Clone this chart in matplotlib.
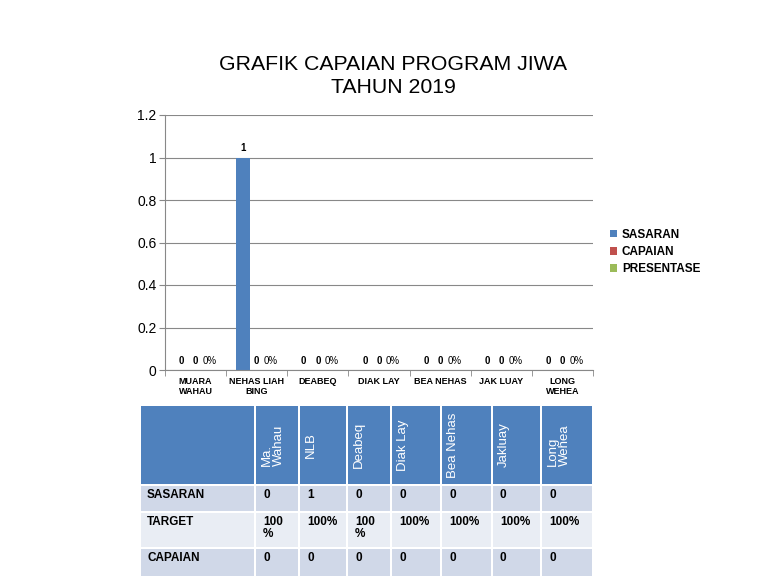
import matplotlib.pyplot as plt
import numpy as np
from matplotlib.patches import Rectangle

plt.rcParams['font.family'] = ['Liberation Sans', 'DejaVu Sans']

categories = ['MUARA\nWAHAU', 'NEHAS LIAH\nBING', 'DEABEQ', 'DIAK LAY', 'BEA NEHAS', 'JAK LUAY', 'LONG\nWEHEA']
series_names = ['SASARAN', 'CAPAIAN', 'PRESENTASE']
sasaran = [0, 1, 0, 0, 0, 0, 0]
capaian = [0, 0, 0, 0, 0, 0, 0]
presentase = [0, 0, 0, 0, 0, 0, 0]
colors = ['#4F81BD', '#C0504D', '#9BBB59']

table_cols = ['Ma.\nWahau', 'NLB', 'Deabeq', 'Diak Lay', 'Bea Nehas', 'Jakluay', 'Long\nWehea']
table_rows = ['SASARAN', 'TARGET', 'CAPAIAN']
table_sasaran = ['0', '1', '0', '0', '0', '0', '0']
table_target = ['100\n%', '100%', '100\n%', '100%', '100%', '100%', '100%']
table_capaian = ['0', '0', '0', '0', '0', '0', '0']

W, H = 768, 576
fig = plt.figure(figsize=(7.68, 5.76), dpi=100)
fig.patch.set_facecolor('white')

# chart
ax = fig.add_axes([165 / W, 1 - 370 / H, (593 - 165) / W, (370 - 115) / H])
x = np.arange(len(categories))
bw = 0.23
vals = [sasaran, capaian, presentase]
for i, (name, v, c) in enumerate(zip(series_names, vals, colors)):
    bars = ax.bar(x + (i - 1) * bw, v, bw, color=c, label=name)
    fmt = '{:.0%}' if name == 'PRESENTASE' else '{:g}'
    weight = 'normal' if name == 'PRESENTASE' else 'bold'
    ax.bar_label(bars, labels=[fmt.format(val) for val in v], padding=3,
                 fontsize=7, fontweight=weight)

ax.set_xlim(-0.5, len(categories) - 0.5)
ax.set_ylim(0, 1.2)
ax.set_yticks(np.arange(0, 1.21, 0.2))
ax.set_yticklabels(['0', '0.2', '0.4', '0.6', '0.8', '1', '1.2'], fontsize=10)
ax.yaxis.grid(True, color='#888888', linewidth=0.8)
ax.set_axisbelow(True)
ax.set_xticks(x)
ax.set_xticklabels(categories, fontsize=6.5, fontweight='bold')
ax.set_xticks(np.arange(-0.5, len(categories)), minor=True)
ax.tick_params(axis='x', which='major', length=0, pad=5)
ax.tick_params(axis='x', which='minor', length=4, color='#888888')
ax.tick_params(axis='y', length=4, color='#888888', pad=2)
for s in ['top', 'right']:
    ax.spines[s].set_visible(False)
ax.spines['left'].set_color('#888888')
ax.spines['bottom'].set_color('#888888')

fig.text(393 / W, 1 - 76 / H, 'GRAFIK CAPAIAN PROGRAM JIWA\nTAHUN 2019', ha='center', va='center',
         fontsize=15.3, linespacing=1.3)

ax.legend(loc='center left', bbox_to_anchor=(1.015, (370 - 252) / 255), frameon=False,
          handlelength=0.6, handleheight=0.6, handletextpad=0.4, labelspacing=0.45,
          prop={'weight': 'bold', 'size': 8.5})

# table
tax = fig.add_axes([0, 0, 1, 1])
tax.set_xlim(0, W)
tax.set_ylim(H, 0)
tax.axis('off')
col_edges = [140, 255, 299, 347, 391, 441, 492, 541, 593]
row_edges = [405, 485, 512, 548, 590]
row_colors = ['#4F81BD', '#D0D8E8', '#E9EDF4', '#D0D8E8']
body = [table_sasaran, table_target, table_capaian]
gap = 1.5
for r in range(4):
    for c in range(8):
        x0, x1 = col_edges[c], col_edges[c + 1]
        y0, y1 = row_edges[r], row_edges[r + 1]
        tax.add_patch(Rectangle((x0 + gap / 2, y0 + gap / 2), x1 - x0 - gap, y1 - y0 - gap,
                                facecolor=row_colors[r], edgecolor='none'))
        if r == 0 and c > 0:
            tax.text(x0 + 6, (y0 + y1) / 2, table_cols[c - 1], rotation=90, ha='left', va='center',
                     color='white', fontsize=9.5, linespacing=0.95)
        elif r > 0 and c == 0:
            tax.text(x0 + 7, y0 + 4, table_rows[r - 1], ha='left', va='top',
                     fontsize=8.5, fontweight='bold')
        elif r > 0:
            tax.text(x0 + 8, y0 + 4, body[r - 1][c - 1], ha='left', va='top',
                     fontsize=8.5, fontweight='bold', linespacing=0.95)

fig.savefig('out.png', dpi=100)
